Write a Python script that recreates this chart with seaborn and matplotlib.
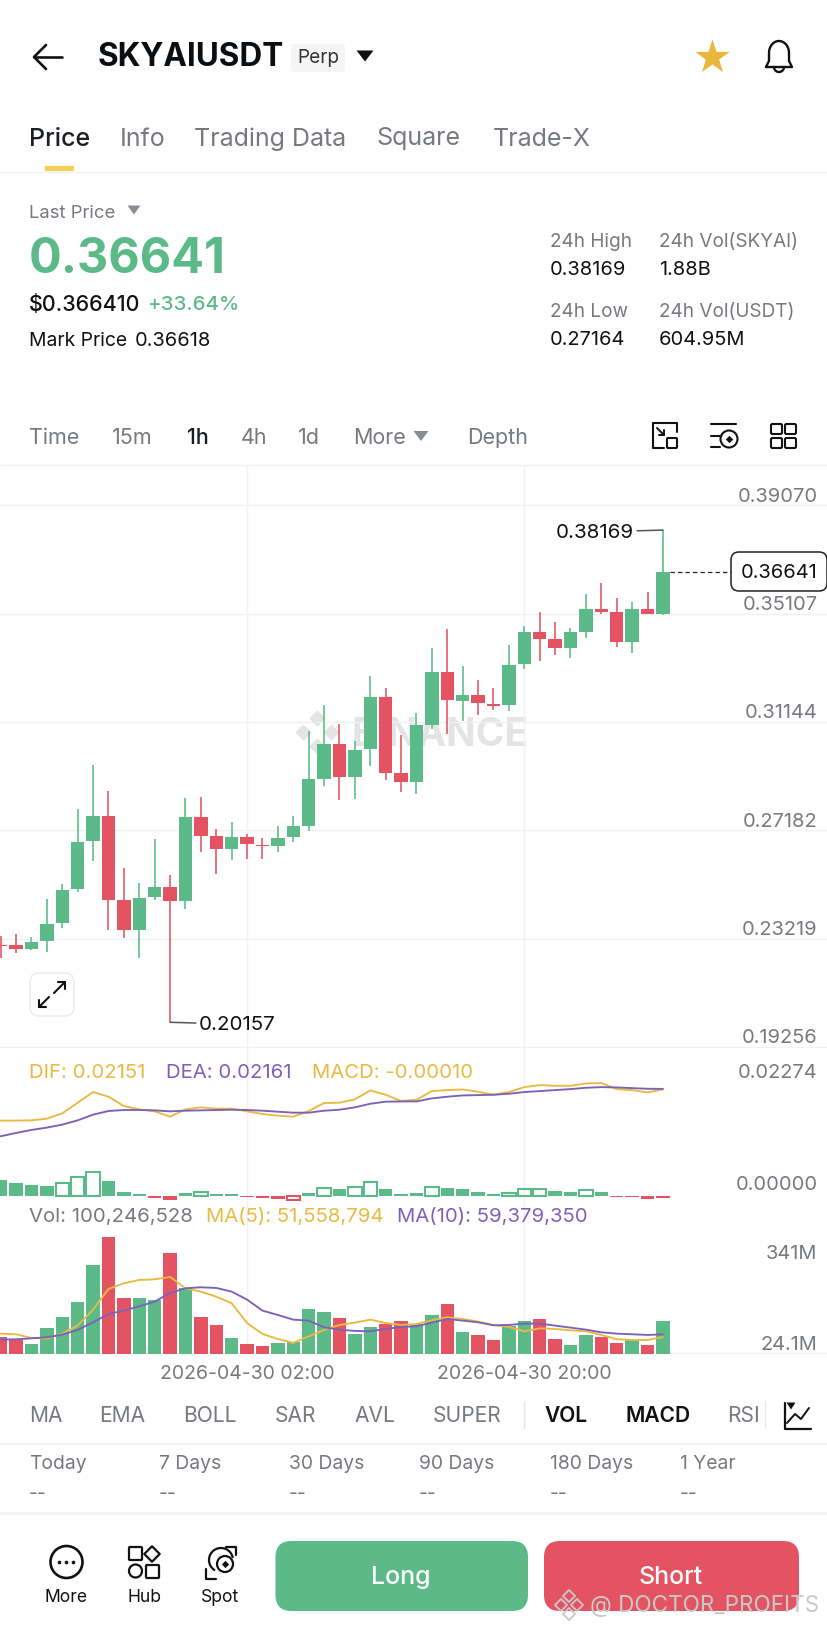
import numpy as np
import pandas as pd
import matplotlib
matplotlib.use("Agg")
import matplotlib.pyplot as plt
from matplotlib.patches import FancyBboxPatch, Circle, Rectangle, Arc
import seaborn as sns

# --- values ---
opens = [.22996,.22983,.22852,.23114,.23781,.25023,.26776,.27691,.24618,.23519,.24749,.25115,.24579,.27652,.26972,.26501,.26933,.26658,.26593,.26933,.27351,.29065,.30333,.29117,.30150,.32073,.29274,.28937,.31034,.32985,.31924,.32131,.31814,.31753,.33266,.34424,.34168,.33839,.34448,.35278,.35168,.34070,.35290,.35082]
closes = [.22944,.22852,.23088,.23768,.24997,.26750,.27691,.24631,.23519,.24722,.25115,.24579,.27652,.26972,.26501,.26933,.26671,.26593,.26907,.27338,.29052,.30333,.29117,.30124,.32073,.29287,.28947,.31034,.32985,.31936,.32119,.31827,.31741,.33241,.34436,.34180,.33839,.34424,.35278,.35180,.34083,.35290,.35082,.36641]
highs = [.23297,.23402,.23271,.24683,.25233,.27979,.29575,.28620,.25808,.25259,.26854,.25546,.28372,.28398,.27221,.27495,.27064,.26894,.27351,.27718,.30830,.31772,.31066,.30464,.32845,.32374,.30660,.31461,.33863,.34534,.33192,.32680,.32388,.33948,.34656,.35156,.34802,.34582,.35814,.36216,.35668,.35546,.35899,.38169]
lows = [.22512,.22708,.22800,.22721,.23598,.24932,.26043,.23519,.23231,.22512,.24631,.20157,.24317,.26384,.25573,.26109,.26135,.26122,.26397,.26763,.27155,.28816,.28306,.28332,.29536,.29038,.28568,.28510,.30875,.30717,.31180,.31388,.31595,.31534,.33095,.33363,.33583,.33485,.34229,.35107,.33900,.33668,.35082,.35046]

dif = [.01519,.01519,.01525,.01559,.01667,.01882,.02097,.02003,.01814,.01747,.01707,.01599,.01747,.01788,.01761,.01761,.01707,.01653,.01620,.01599,.01714,.01875,.01882,.01949,.02130,.02043,.01915,.01942,.02117,.02137,.02150,.02103,.02043,.02097,.02197,.02238,.02224,.02224,.02271,.02278,.02157,.02137,.02090,.02151]
dea = [.01203,.01270,.01331,.01378,.01438,.01525,.01640,.01714,.01734,.01734,.01727,.01707,.01720,.01727,.01734,.01740,.01734,.01720,.01700,.01680,.01680,.01720,.01740,.01788,.01861,.01902,.01908,.01908,.01969,.02003,.02029,.02036,.02043,.02063,.02097,.02117,.02137,.02157,.02184,.02197,.02191,.02177,.02164,.02161]
hist = [.00316,.00255,.00208,.00195,.00255,.00370,.00470,.00289,.00081,.00040,-.00040,-.00094,.00060,.00081,.00040,.00040,-.00034,-.00054,-.00074,-.00087,.00060,.00161,.00128,.00168,.00282,.00134,.00034,.00060,.00181,.00155,.00128,.00074,.00040,.00060,.00128,.00141,.00087,.00074,.00108,.00081,-.00034,-.00034,-.00067,-.00054]
hist_hollow = [4, 5, 6, 13, 19, 21, 23, 24, 28, 33, 34, 35, 38]

volume = [50.6,44.7,30.8,77.4,110.2,154.8,266.0,348.4,167.7,166.7,160.8,302.7,196.5,112.2,87.3,48.6,31.8,23.8,32.8,35.7,134.0,127.0,107.2,61.5,82.4,90.3,98.3,91.3,116.1,148.9,65.5,57.6,42.7,83.4,100.2,105.2,46.6,28.8,56.6,51.6,32.8,42.7,27.8,100.2]
ma5 = [61.5,59.6,48.6,46.6,61.5,85.4,133.0,194.5,211.4,221.3,223.3,230.3,196.5,186.6,171.7,151.9,93.3,60.5,45.7,33.7,53.6,72.5,87.3,94.3,103.2,93.3,87.3,90.3,101.2,110.2,105.2,97.3,87.3,81.4,68.5,77.4,75.4,71.5,68.5,57.6,44.7,42.7,42.7,51.56]
ma10 = [43.7,44.7,47.6,50.6,58.6,72.5,95.3,120.1,130.0,142.9,156.8,182.6,196.5,199.5,197.5,186.6,162.8,130.0,117.1,103.2,100.2,80.4,73.4,69.5,68.5,75.4,81.4,83.4,94.3,105.2,100.2,95.3,86.3,87.3,91.3,91.3,85.4,79.4,73.4,65.5,61.5,59.6,57.6,59.38]

price_ticks = [0.39070, 0.35107, 0.31144, 0.27182, 0.23219, 0.19256]
time_ticks = [16, 34]
time_labels = ["2026-04-30 02:00", "2026-04-30 20:00"]

GREEN = "#5CBA89"
RED = "#E45362"
YELLOW = "#E9BA43"
PURPLE = "#7B62B8"
GRAY = "#76797F"
GRID = "#F1F1F1"
DARK = "#111111"

sns.set_theme(style="white")
plt.rcParams["font.family"] = ["Inter", "DejaVu Sans"]

W, H = 828, 1631
fig = plt.figure(figsize=(W / 100, H / 100), dpi=100, facecolor="white")


def page_axes(zorder):
    page = fig.add_axes([0, 0, 1, 1], zorder=zorder)
    page.set_xlim(0, W)
    page.set_ylim(H, 0)
    page.axis("off")
    return page


# page axes in pixels, everything that is not chart goes here
ui = page_axes(0)


def txt(x, y, s, px=20, color=GRAY, weight="normal", ha="left", **kw):
    return ui.text(x, y + 2, s, fontsize=px * 0.72, color=color, fontweight=weight,
                   ha=ha, va="center", **kw)


def hline(y, lw=1.0, x0=0, x1=W):
    ui.plot([x0, x1], [y, y], color=GRID, lw=lw, solid_capstyle="butt")


def rbox(x0, y0, x1, y1, r, fc, ec="none", lw=1.0):
    ui.add_patch(FancyBboxPatch((x0 + r, y0 + r), x1 - x0 - 2 * r, y1 - y0 - 2 * r,
                                boxstyle=f"round,pad={r},rounding_size={r}",
                                fc=fc, ec=ec, lw=lw))


def tri(x, y, w, h, color):
    ui.fill([x - w / 2, x + w / 2, x], [y - h / 2, y - h / 2, y + h / 2], color=color, lw=0)


def ink(xs, ys, lw=1.9, color=DARK):
    ui.plot(xs, ys, color=color, lw=lw, solid_capstyle="round", solid_joinstyle="round")


# header
ink([34, 62], [58, 58])
ink([46, 34, 46], [46, 58, 70])
txt(98, 56, "SKYAIUSDT", 31.5, "#0B0E11", "bold")
rbox(291, 45, 345, 73, 4, "#F5F5F5")
txt(318, 56, "Perp", 19, "#333333", ha="center")
tri(365, 57, 17, 11, DARK)
ui.scatter([712], [58], marker="*", s=680, color="#E8B83C", linewidths=0)
t = np.linspace(np.pi, 0, 30)
ink(np.r_[766, 769, 769 + 10 * (1 + np.cos(t)), 789, 792, 766],
    np.r_[68, 62, 54 - 12 * np.sin(t), 62, 68, 68], lw=1.7)
ink(779 + 5 * np.cos(t + np.pi), 68 - 5 * np.sin(t + np.pi), lw=1.7)

for x, s, c, w in [(29, "Price", "#1A1D21", "medium"), (119.5, "Info", GRAY, "normal"),
                   (194, "Trading Data", GRAY, "normal"), (376.5, "Square", GRAY, "normal"),
                   (492.5, "Trade-X", GRAY, "normal")]:
    txt(x, 137, s, 25, c, w)
ui.add_patch(Rectangle((45, 167), 29, 5, fc="#F5CF4E", ec="none"))
hline(173)

# price block
txt(29, 211, "Last Price", 18.5)
tri(134, 211, 13, 9, "#8B8E94")
txt(29, 258, "0.36641", 48.5, GREEN, "bold")
txt(29, 303, "$0.366410", 21.5, DARK, "medium")
txt(147.5, 303, "+33.64%", 20.5, GREEN, "medium")
txt(29, 339, "Mark Price", 19.3, DARK)
txt(135, 339, "0.36618", 20, DARK)
for x, top, val, top2, val2 in [(550, "24h High", "0.38169", "24h Low", "0.27164"),
                                (659, "24h Vol(SKYAI)", "1.88B", "24h Vol(USDT)", "604.95M")]:
    txt(x, 240, top, 19)
    txt(x, 268, val, 20, DARK)
    txt(x, 310, top2, 19)
    txt(x, 338, val2, 20, DARK)

# interval row
for x, s, c, w in [(29, "Time", GRAY, "normal"), (112, "15m", GRAY, "normal"), (187, "1h", "#1A1D21", "medium"),
                   (241, "4h", GRAY, "normal"), (298, "1d", GRAY, "normal"), (353, "More", GRAY, "normal"),
                   (467, "Depth", GRAY, "normal")]:
    txt(x, 436, s, 21.5, c, w)
tri(421, 437, 15, 10, "#8B8E94")
# split screen icon
ink([664, 653, 653, 677, 677], [449, 449, 424, 424, 433], lw=1.5)
rbox(667, 439, 677, 449, 1, "none", DARK, 1.5)
ink([657, 664], [429, 436], lw=1.4)
ink([659, 664, 664], [436, 436, 431], lw=1.4)
# settings icon
ink([711, 736], [425, 425], lw=1.5)
ink([711, 720], [437, 437], lw=1.5)
ink([711, 720], [448, 448], lw=1.5)
ui.add_patch(Circle((729, 440), 8.5, fc="white", ec=DARK, lw=1.5))
ui.scatter([729], [440], marker="D", s=14, color=DARK, linewidths=0)
# grid icon
for bx in (771, 785):
    for by in (425, 439):
        rbox(bx, by, bx + 11, by + 10, 1.5, "none", DARK, 1.5)
hline(466)

# watermark sits under the candles
ui.text(352, 736, "BINANCE", fontsize=28, color="#E4E4E4", fontweight="bold", ha="left", va="center")
ui.scatter([317, 303, 331, 317], [719, 733, 733, 747], marker="D", s=70, color="#E4E4E4", linewidths=0)

# zoom button
rbox(30, 974, 74, 1017, 9, "white", "#EEEEEE", 1.3)
ink([39, 49], [1008, 998], lw=1.5)
ink([39, 39, 46], [1001, 1008, 1008], lw=1.5)
ink([54, 65], [994, 983], lw=1.5)
ink([58, 65, 65], [983, 983, 990], lw=1.5)


def panel(top, bottom):
    ax = fig.add_axes([0, 1 - bottom / H, 1, (bottom - top) / H], zorder=1)
    ax.patch.set_alpha(0)
    ax.set_xlim(-0.0435, 53.72)
    ax.set_axisbelow(True)
    sns.despine(ax=ax, left=True, bottom=True)
    ax.tick_params(left=False, bottom=False, labelleft=False, labelbottom=False)
    for tick in time_ticks:
        ax.axvline(tick, color=GRID, lw=1.0, zorder=0)
    return ax


idx = np.arange(len(opens))
up = np.array(closes) >= np.array(opens)
colors = [GREEN if u else RED for u in up]

# --- candles ---
ax = panel(466, 1047.9)
ax.set_ylim(0.19256, 0.19256 + (1047.9 - 466) * 0.00036593)
for tick in price_ticks:
    ax.axhline(tick, color=GRID, lw=1.0, zorder=0)
    ax.annotate(f"{tick:.5f}", (53.72, tick), xytext=(-7.5, 7), textcoords="offset points",
                ha="right", va="center", fontsize=14.4, color=GRAY, annotation_clip=False)
ax.vlines(idx, lows, highs, colors=colors, lw=1.15, zorder=2)
body_low = np.minimum(opens, closes)
body_h = np.maximum(np.abs(np.array(closes) - np.array(opens)), 0.0005)
ax.bar(idx, body_h, bottom=body_low, width=0.87, color=colors, zorder=3, linewidth=0)

# extremes and last price
ax.annotate("0.38169", (43, 0.38169), xytext=(-29, -2), textcoords="offset pixels", ha="right", va="center",
            fontsize=14.8, color=DARK, arrowprops=dict(arrowstyle="-", color="#555555", lw=1.1, shrinkA=0, shrinkB=0))
ax.annotate("0.20157", (11, 0.20157), xytext=(29, -2), textcoords="offset pixels", ha="left", va="center",
            fontsize=14.8, color=DARK, arrowprops=dict(arrowstyle="-", color="#555555", lw=1.1, shrinkA=0, shrinkB=0))
ax.plot([43.45, 47.4], [0.36641, 0.36641], color="#222222", lw=0.9, ls=(0, (3.5, 2.5)))
rbox(731, 553, 827, 592, 8, "white", "#222222", 1.1)
txt(779, 571, "0.36641", 20, DARK, ha="center")

# legends and the rest of the page go above the panels so the grid does not cross them
ui = page_axes(2)

# --- MACD ---
ax = panel(1047.9, 1201.7)
ax.set_ylim(-0.00101, 0.03011)
ax.axhline(ax.get_ylim()[1], color=GRID, lw=1.0, zorder=0)
ax.axhline(ax.get_ylim()[0], color=GRID, lw=1.0, zorder=0)
hist_df = pd.DataFrame({"i": idx, "v": hist})
hist_df["c"] = [GREEN if v > 0 else RED for v in hist]
hist_df["hollow"] = hist_df["i"].isin(hist_hollow)
palette = {GREEN: GREEN, RED: RED}
sns.barplot(data=hist_df[~hist_df["hollow"]], x="i", y="v", hue="c", palette=palette, native_scale=True,
            width=0.87, dodge=False, saturation=1, legend=False, ax=ax, linewidth=0)
sns.barplot(data=hist_df[hist_df["hollow"]], x="i", y="v", hue="c", palette=palette, native_scale=True,
            width=0.87, dodge=False, fill=False, legend=False, ax=ax, linewidth=1.5)
sns.lineplot(x=idx, y=dif, color=YELLOW, lw=1.35, ax=ax, errorbar=None)
sns.lineplot(x=idx, y=dea, color=PURPLE, lw=1.35, ax=ax, errorbar=None)
ax.set_xlim(-0.0435, 53.72)
ax.set_xlabel("")
ax.set_ylabel("")
ax.tick_params(left=False, bottom=False, labelleft=False, labelbottom=False)
sns.despine(ax=ax, left=True, bottom=True)

txt(29, 1071, "DIF: 0.02151", 20.3, YELLOW)
txt(166, 1071, "DEA: 0.02161", 20.3, PURPLE)
txt(312, 1071, "MACD: -0.00010", 20.3, YELLOW)
txt(817.5, 1071, "0.02274", 20, ha="right")
txt(817.5, 1183.5, "0.00000", 20, ha="right")

# --- volume ---
ax = panel(1201.7, 1355.3)
ax.set_ylim(0, 457.3)
ax.axhline(0, color=GRID, lw=1.6, zorder=0)
vol_df = pd.DataFrame({"i": idx, "v": volume, "c": colors})
sns.barplot(data=vol_df, x="i", y="v", hue="c", palette=palette, native_scale=True, width=0.87,
            dodge=False, saturation=1, legend=False, ax=ax, linewidth=0)
sns.lineplot(x=idx, y=ma5, color=YELLOW, lw=1.35, ax=ax, errorbar=None)
sns.lineplot(x=idx, y=ma10, color=PURPLE, lw=1.35, ax=ax, errorbar=None)
ax.set_xlim(-0.0435, 53.72)
ax.set_xlabel("")
ax.set_ylabel("")
ax.tick_params(left=False, bottom=False, labelleft=False, labelbottom=False)
sns.despine(ax=ax, left=True, bottom=True)
for tick, label in zip(time_ticks, time_labels):
    ax.annotate(label, (tick, 0), xytext=(0, -13.5), textcoords="offset points", ha="center", va="center",
                fontsize=14, color=GRAY, annotation_clip=False)

txt(29, 1215.5, "Vol: 100,246,528", 20.3)
txt(206, 1215.5, "MA(5): 51,558,794", 20.3, YELLOW)
txt(397, 1215.5, "MA(10): 59,379,350", 20.3, PURPLE)
txt(817.5, 1252, "341M", 20, ha="right")
txt(817.5, 1343, "24.1M", 20, ha="right")

# --- bottom part of the page ---
for x, s in [(29, "MA"), (99, "EMA"), (183, "BOLL"), (275, "SAR"), (354, "AVL"), (433, "SUPER"), (727, "RSI")]:
    txt(x, 1414, s, 21)
txt(544, 1414, "VOL", 21, DARK, "semibold")
txt(625.5, 1414, "MACD", 21, DARK, "semibold")
ui.plot([524, 524], [1402, 1429], color="#E6E6E6", lw=1)
ui.plot([765, 765], [1402, 1429], color="#E6E6E6", lw=1)
ink([785, 785, 811], [1404, 1430, 1430], lw=1.6)
ink([787, 795, 801, 809], [1424, 1415, 1420, 1409], lw=1.4)
tri(791, 1407, 9, 7, DARK)
hline(1444.5, 1.2)

for x, s in [(29, "Today"), (159, "7 Days"), (289, "30 Days"), (419, "90 Days"), (550, "180 Days"), (680, "1 Year")]:
    txt(x, 1462, s, 19.3)
    txt(x, 1492, "--", 19)
hline(1514, 1.8)

# bottom icons
ui.add_patch(Circle((66.5, 1563), 16, fc="none", ec=DARK, lw=1.9))
ui.scatter([59.5, 66.5, 73.5], [1563, 1563, 1563], s=7, color=DARK, linewidths=0)
txt(66.5, 1596, "More", 17.5, DARK, ha="center")
rbox(129, 1548, 142, 1561, 1, "none", DARK, 1.6)
ui.scatter([152], [1555], marker="D", s=62, facecolors="none", edgecolors=DARK, linewidths=1.6)
ui.add_patch(Circle((135.5, 1572), 6.5, fc="none", ec=DARK, lw=1.6))
rbox(146, 1566, 159, 1579, 1, "none", DARK, 1.6)
txt(144.5, 1596, "Hub", 17.5, DARK, ha="center")
ink([226, 236, 236], [1548, 1548, 1556], lw=1.6)
ink([206, 206, 216], [1570, 1580, 1580], lw=1.6)
ui.add_patch(Arc((221, 1561), 24, 24, theta1=120, theta2=350, ec=DARK, lw=1.6))
ui.add_patch(Circle((225, 1565), 8, fc="white", ec=DARK, lw=1.6))
ui.scatter([225], [1565], marker="D", s=14, color=DARK, linewidths=0)
txt(220.5, 1596, "Spot", 17.5, DARK, ha="center")

rbox(275.5, 1542, 528, 1612, 16, GREEN)
txt(401, 1576, "Long", 25, "white", "medium", ha="center")
rbox(544, 1542, 799, 1612, 16, RED)
txt(671, 1576, "Short", 25, "white", "medium", ha="center")

# repost mark
mark = "#C9C9C9"
ui.scatter([569, 561, 577, 569], [1597, 1606, 1606, 1615], marker="D", s=38, facecolors="none",
           edgecolors=mark, linewidths=1.3)
txt(590, 1604, "@ DOCTOR_PROFITS", 22.5, mark)

plt.savefig("out.png", dpi=100)
